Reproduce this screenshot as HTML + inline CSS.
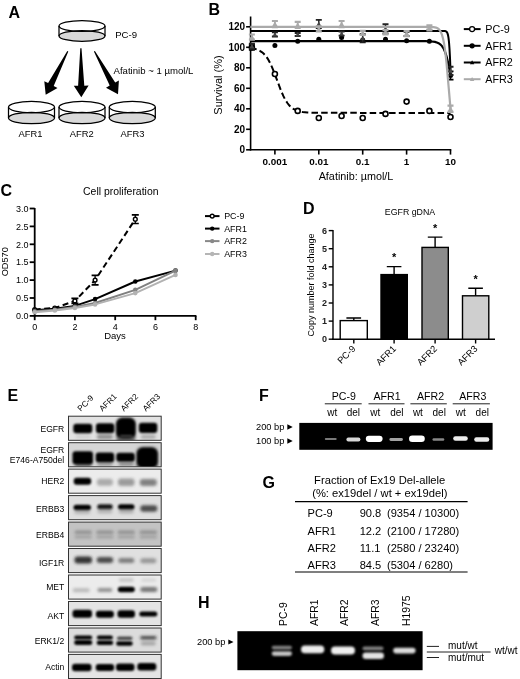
<!DOCTYPE html>
<html lang="en"><head><meta charset="utf-8"><title>Figure</title>
<style>
html,body{margin:0;padding:0;background:#fff;}
body{width:520px;height:679px;overflow:hidden;}
svg{display:block;font-family:"Liberation Sans",Arial,Helvetica,sans-serif;}
</style></head><body>
<svg width="520" height="679" viewBox="0 0 520 679">
<rect width="520" height="679" fill="#fff"/>
<text x="8.5" y="18" font-size="16" font-weight="bold" text-anchor="start" fill="#000">A</text>
<text x="208.5" y="15.2" font-size="16" font-weight="bold" text-anchor="start" fill="#000">B</text>
<text x="0.5" y="195.6" font-size="16" font-weight="bold" text-anchor="start" fill="#000">C</text>
<text x="303" y="213.8" font-size="16" font-weight="bold" text-anchor="start" fill="#000">D</text>
<text x="7.5" y="401.2" font-size="16" font-weight="bold" text-anchor="start" fill="#000">E</text>
<text x="259" y="401" font-size="16" font-weight="bold" text-anchor="start" fill="#000">F</text>
<text x="262.5" y="487.5" font-size="16" font-weight="bold" text-anchor="start" fill="#000">G</text>
<text x="198" y="607.8" font-size="16" font-weight="bold" text-anchor="start" fill="#000">H</text>
<g stroke="#000" stroke-width="1.25" fill="none">
<ellipse cx="82" cy="35.9" rx="23" ry="5.4" fill="#d9d9d9"/>
<ellipse cx="82" cy="26" rx="23" ry="5.4" fill="none"/>
<line x1="59" y1="26" x2="59" y2="35.9"/>
<line x1="105" y1="26" x2="105" y2="35.9"/>
</g>
<g stroke="#000" stroke-width="1.25" fill="none">
<ellipse cx="31.5" cy="118.0" rx="23" ry="5.7" fill="#d9d9d9"/>
<ellipse cx="31.5" cy="107.1" rx="23" ry="5.7" fill="none"/>
<line x1="8.5" y1="107.1" x2="8.5" y2="118.0"/>
<line x1="54.5" y1="107.1" x2="54.5" y2="118.0"/>
</g>
<g stroke="#000" stroke-width="1.25" fill="none">
<ellipse cx="82" cy="118.0" rx="23" ry="5.7" fill="#d9d9d9"/>
<ellipse cx="82" cy="107.1" rx="23" ry="5.7" fill="none"/>
<line x1="59" y1="107.1" x2="59" y2="118.0"/>
<line x1="105" y1="107.1" x2="105" y2="118.0"/>
</g>
<g stroke="#000" stroke-width="1.25" fill="none">
<ellipse cx="132.3" cy="118.0" rx="23" ry="5.7" fill="#d9d9d9"/>
<ellipse cx="132.3" cy="107.1" rx="23" ry="5.7" fill="none"/>
<line x1="109.30000000000001" y1="107.1" x2="109.30000000000001" y2="118.0"/>
<line x1="155.3" y1="107.1" x2="155.3" y2="118.0"/>
</g>
<text x="115.2" y="37.8" font-size="9.6" font-weight="normal" text-anchor="start" fill="#000">PC-9</text>
<text x="113.5" y="74" font-size="9.6" font-weight="normal" text-anchor="start" fill="#000">Afatinib ~ 1 µmol/L</text>
<text x="18.6" y="137.4" font-size="9.4" font-weight="normal" text-anchor="start" fill="#000">AFR1</text>
<text x="69.8" y="137.4" font-size="9.4" font-weight="normal" text-anchor="start" fill="#000">AFR2</text>
<text x="120.5" y="137.4" font-size="9.4" font-weight="normal" text-anchor="start" fill="#000">AFR3</text>
<polygon fill="#000" points="67.3,51.0 48.1,83.1 44.3,81.2 45.7,94.8 57.5,87.9 53.7,86.0 68.3,51.6"/>
<polygon fill="#000" points="80.3,48.3 78.1,85.7 73.8,85.8 81.3,97.2 88.6,85.6 84.3,85.7 81.5,48.3"/>
<polygon fill="#000" points="93.9,51.6 109.7,85.6 106.0,87.7 118.0,94.2 118.9,80.6 115.2,82.6 94.9,51.0"/>
<g stroke="#000" stroke-width="1.6" fill="none">
<line x1="250.6" y1="16.5" x2="250.6" y2="150.5"/>
<line x1="249.9" y1="149.8" x2="451.3" y2="149.8"/>
<line x1="246.1" y1="149.8" x2="250.6" y2="149.8"/>
<line x1="246.1" y1="129.3" x2="250.6" y2="129.3"/>
<line x1="246.1" y1="108.8" x2="250.6" y2="108.8"/>
<line x1="246.1" y1="88.3" x2="250.6" y2="88.3"/>
<line x1="246.1" y1="67.8" x2="250.6" y2="67.8"/>
<line x1="246.1" y1="47.3" x2="250.6" y2="47.3"/>
<line x1="246.1" y1="26.8" x2="250.6" y2="26.8"/>
<line x1="274.9" y1="149.8" x2="274.9" y2="154.60000000000002"/>
<line x1="318.8" y1="149.8" x2="318.8" y2="154.60000000000002"/>
<line x1="362.7" y1="149.8" x2="362.7" y2="154.60000000000002"/>
<line x1="406.6" y1="149.8" x2="406.6" y2="154.60000000000002"/>
<line x1="450.5" y1="149.8" x2="450.5" y2="154.60000000000002"/>
</g>
<text x="245.1" y="153.3" font-size="10" font-weight="bold" text-anchor="end" fill="#000">0</text>
<text x="245.1" y="132.8" font-size="10" font-weight="bold" text-anchor="end" fill="#000">20</text>
<text x="245.1" y="112.3" font-size="10" font-weight="bold" text-anchor="end" fill="#000">40</text>
<text x="245.1" y="91.8" font-size="10" font-weight="bold" text-anchor="end" fill="#000">60</text>
<text x="245.1" y="71.3" font-size="10" font-weight="bold" text-anchor="end" fill="#000">80</text>
<text x="245.1" y="50.8" font-size="10" font-weight="bold" text-anchor="end" fill="#000">100</text>
<text x="245.1" y="30.3" font-size="10" font-weight="bold" text-anchor="end" fill="#000">120</text>
<text x="274.9" y="164.5" font-size="9.9" font-weight="bold" text-anchor="middle" fill="#000">0.001</text>
<text x="318.8" y="164.5" font-size="9.9" font-weight="bold" text-anchor="middle" fill="#000">0.01</text>
<text x="362.7" y="164.5" font-size="9.9" font-weight="bold" text-anchor="middle" fill="#000">0.1</text>
<text x="406.6" y="164.5" font-size="9.9" font-weight="bold" text-anchor="middle" fill="#000">1</text>
<text x="450.5" y="164.5" font-size="9.9" font-weight="bold" text-anchor="middle" fill="#000">10</text>
<text x="221.8" y="85" font-size="11" font-weight="normal" text-anchor="middle" fill="#000" transform="rotate(-90 221.8 85)">Survival (%)</text>
<text x="356" y="180.3" font-size="10.8" font-weight="normal" text-anchor="middle" fill="#000">Afatinib: µmol/L</text>
<path d="M250.3,48.0 L254.3,48.7 L257.3,49.6 L259.8,50.8 L261.8,52.1 L263.8,53.8 L265.8,56.0 L267.8,58.8 L269.8,62.4 L272.3,67.8 L275.8,76.8 L280.8,90.1 L283.3,95.9 L285.3,99.8 L287.4,103.0 L289.4,105.5 L291.4,107.4 L293.4,108.9 L295.9,110.2 L298.9,111.2 L302.4,112.0 L307.4,112.5 L316.4,112.8 L373.4,112.9 L450.5,112.9" stroke="#000" stroke-width="2" stroke-dasharray="6.5 3.2" fill="none"/>
<circle cx="251.9" cy="47.3" r="2.5" fill="#fff" stroke="#000" stroke-width="1.6"/>
<circle cx="274.9" cy="74.0" r="2.5" fill="#fff" stroke="#000" stroke-width="1.6"/>
<circle cx="297.7" cy="110.9" r="2.5" fill="#fff" stroke="#000" stroke-width="1.6"/>
<circle cx="318.8" cy="118.0" r="2.5" fill="#fff" stroke="#000" stroke-width="1.6"/>
<circle cx="341.6" cy="116.0" r="2.5" fill="#fff" stroke="#000" stroke-width="1.6"/>
<circle cx="362.7" cy="118.0" r="2.5" fill="#fff" stroke="#000" stroke-width="1.6"/>
<circle cx="385.5" cy="113.9" r="2.5" fill="#fff" stroke="#000" stroke-width="1.6"/>
<circle cx="406.6" cy="101.6" r="2.5" fill="#fff" stroke="#000" stroke-width="1.6"/>
<circle cx="429.4" cy="110.9" r="2.5" fill="#fff" stroke="#000" stroke-width="1.6"/>
<circle cx="450.5" cy="117.0" r="2.5" fill="#fff" stroke="#000" stroke-width="1.6"/>
<path d="M250.3,41.2 L425.5,41.2 L431.5,41.5 L435.0,41.9 L437.5,42.7 L439.0,43.4 L440.5,44.5 L442.0,46.1 L443.5,48.4 L445.0,51.7 L446.5,56.2 L448.0,62.2 L449.5,69.8 L450.5,75.8" stroke="#000" stroke-width="2.2" fill="none"/>
<path d="M251.9,44.7V49.9" stroke="#000" stroke-width="1.5" fill="none"/>
<path d="M248.9,44.7H254.9M248.9,49.9H254.9" stroke="#000" stroke-width="1.9" fill="none"/>
<circle cx="251.9" cy="47.3" r="2.5" fill="#000"/>
<circle cx="274.9" cy="45.5" r="2.5" fill="#000"/>
<circle cx="297.7" cy="41.2" r="2.5" fill="#000"/>
<circle cx="318.8" cy="39.3" r="2.5" fill="#000"/>
<circle cx="341.6" cy="37.4" r="2.5" fill="#000"/>
<circle cx="362.7" cy="40.1" r="2.5" fill="#000"/>
<circle cx="385.5" cy="39.3" r="2.5" fill="#000"/>
<circle cx="406.6" cy="40.8" r="2.5" fill="#000"/>
<circle cx="429.4" cy="41.2" r="2.5" fill="#000"/>
<path d="M450.5,71.4V79.6" stroke="#000" stroke-width="1.5" fill="none"/>
<path d="M447.5,71.4H453.5M447.5,79.6H453.5" stroke="#000" stroke-width="1.9" fill="none"/>
<circle cx="450.5" cy="75.5" r="2.5" fill="#000"/>
<path d="M250.3,30.9 L443.5,30.9 L445.0,31.1 L446.0,31.4 L446.5,31.8 L447.0,32.4 L447.5,33.4 L448.0,35.1 L448.5,37.8 L449.0,42.1 L449.5,48.7 L450.0,58.1 L450.5,70.7" stroke="#000" stroke-width="2" fill="none"/>
<path d="M251.9,43.7V48.8" stroke="#222" stroke-width="1.5" fill="none"/>
<path d="M248.9,43.7H254.9M248.9,48.8H254.9" stroke="#222" stroke-width="1.9" fill="none"/>
<polygon points="251.9,43.9 254.3,48.2 249.5,48.2" fill="#444"/>
<path d="M274.9,32.4V36.5" stroke="#222" stroke-width="1.5" fill="none"/>
<path d="M271.9,32.4H277.9M271.9,36.5H277.9" stroke="#222" stroke-width="1.9" fill="none"/>
<polygon points="274.9,32.1 277.3,36.4 272.5,36.4" fill="#444"/>
<path d="M297.7,33.0V36.0" stroke="#222" stroke-width="1.5" fill="none"/>
<path d="M294.7,33.0H300.7M294.7,36.0H300.7" stroke="#222" stroke-width="1.9" fill="none"/>
<polygon points="297.7,32.1 300.1,36.4 295.3,36.4" fill="#444"/>
<path d="M318.8,19.9V28.1" stroke="#222" stroke-width="1.5" fill="none"/>
<path d="M315.8,19.9H321.8M315.8,28.1H321.8" stroke="#222" stroke-width="1.9" fill="none"/>
<polygon points="318.8,21.6 321.2,26.0 316.4,26.0" fill="#444"/>
<path d="M341.6,31.5V35.6" stroke="#222" stroke-width="1.5" fill="none"/>
<path d="M338.6,31.5H344.6M338.6,35.6H344.6" stroke="#222" stroke-width="1.9" fill="none"/>
<polygon points="341.6,31.2 344.0,35.5 339.2,35.5" fill="#444"/>
<path d="M362.7,34.2V42.4" stroke="#222" stroke-width="1.5" fill="none"/>
<path d="M359.7,34.2H365.7M359.7,42.4H365.7" stroke="#222" stroke-width="1.9" fill="none"/>
<polygon points="362.7,35.9 365.1,40.2 360.3,40.2" fill="#444"/>
<path d="M385.5,24.2V33.5" stroke="#222" stroke-width="1.5" fill="none"/>
<path d="M382.5,24.2H388.5M382.5,33.5H388.5" stroke="#222" stroke-width="1.9" fill="none"/>
<polygon points="385.5,26.5 387.9,30.8 383.1,30.8" fill="#444"/>
<path d="M406.6,31.9V36.0" stroke="#222" stroke-width="1.5" fill="none"/>
<path d="M403.6,31.9H409.6M403.6,36.0H409.6" stroke="#222" stroke-width="1.9" fill="none"/>
<polygon points="406.6,31.6 409.0,35.9 404.2,35.9" fill="#444"/>
<path d="M429.4,27.3V30.4" stroke="#222" stroke-width="1.5" fill="none"/>
<path d="M426.4,27.3H432.4M426.4,30.4H432.4" stroke="#222" stroke-width="1.9" fill="none"/>
<polygon points="429.4,26.5 431.8,30.8 427.0,30.8" fill="#444"/>
<path d="M450.5,66.8V75.0" stroke="#222" stroke-width="1.5" fill="none"/>
<path d="M447.5,66.8H453.5M447.5,75.0H453.5" stroke="#222" stroke-width="1.9" fill="none"/>
<polygon points="450.5,68.5 452.9,72.8 448.1,72.8" fill="#444"/>
<path d="M250.3,26.8 L429.5,26.9 L433.5,27.1 L436.0,27.6 L437.5,28.3 L439.0,29.4 L440.0,30.6 L441.0,32.4 L442.0,34.9 L443.0,38.4 L444.0,43.2 L445.0,49.7 L446.5,62.8 L448.5,85.3 L450.5,108.7" stroke="#aaa" stroke-width="2.2" fill="none"/>
<path d="M251.9,34.5V39.6" stroke="#aaa" stroke-width="1.8" fill="none"/>
<path d="M248.9,34.5H254.9M248.9,39.6H254.9" stroke="#aaa" stroke-width="2.2" fill="none"/>
<polygon points="251.9,34.5 254.5,39.1 249.3,39.1" fill="#aaa"/>
<path d="M274.9,21.0V27.1" stroke="#aaa" stroke-width="1.8" fill="none"/>
<path d="M271.9,21.0H277.9M271.9,27.1H277.9" stroke="#aaa" stroke-width="2.2" fill="none"/>
<polygon points="274.9,21.4 277.5,26.1 272.3,26.1" fill="#aaa"/>
<path d="M297.7,21.9V28.0" stroke="#aaa" stroke-width="1.8" fill="none"/>
<path d="M294.7,21.9H300.7M294.7,28.0H300.7" stroke="#aaa" stroke-width="2.2" fill="none"/>
<polygon points="297.7,22.4 300.3,27.0 295.1,27.0" fill="#aaa"/>
<path d="M318.8,26.3V31.4" stroke="#aaa" stroke-width="1.8" fill="none"/>
<path d="M315.8,26.3H321.8M315.8,31.4H321.8" stroke="#aaa" stroke-width="2.2" fill="none"/>
<polygon points="318.8,26.3 321.4,30.9 316.2,30.9" fill="#aaa"/>
<path d="M341.6,21.0V27.1" stroke="#aaa" stroke-width="1.8" fill="none"/>
<path d="M338.6,21.0H344.6M338.6,27.1H344.6" stroke="#aaa" stroke-width="2.2" fill="none"/>
<polygon points="341.6,21.4 344.2,26.1 339.0,26.1" fill="#aaa"/>
<path d="M362.7,30.9V35.0" stroke="#aaa" stroke-width="1.8" fill="none"/>
<path d="M359.7,30.9H365.7M359.7,35.0H365.7" stroke="#aaa" stroke-width="2.2" fill="none"/>
<polygon points="362.7,30.4 365.3,35.0 360.1,35.0" fill="#aaa"/>
<path d="M385.5,30.2V34.3" stroke="#aaa" stroke-width="1.8" fill="none"/>
<path d="M382.5,30.2H388.5M382.5,34.3H388.5" stroke="#aaa" stroke-width="2.2" fill="none"/>
<polygon points="385.5,29.6 388.1,34.3 382.9,34.3" fill="#aaa"/>
<path d="M406.6,31.0V36.1" stroke="#aaa" stroke-width="1.8" fill="none"/>
<path d="M403.6,31.0H409.6M403.6,36.1H409.6" stroke="#aaa" stroke-width="2.2" fill="none"/>
<polygon points="406.6,31.0 409.2,35.6 404.0,35.6" fill="#aaa"/>
<path d="M429.4,25.3V30.4" stroke="#aaa" stroke-width="1.8" fill="none"/>
<path d="M426.4,25.3H432.4M426.4,30.4H432.4" stroke="#aaa" stroke-width="2.2" fill="none"/>
<polygon points="429.4,25.2 432.0,29.9 426.8,29.9" fill="#aaa"/>
<path d="M450.5,105.7V111.9" stroke="#aaa" stroke-width="1.8" fill="none"/>
<path d="M447.5,105.7H453.5M447.5,111.9H453.5" stroke="#aaa" stroke-width="2.2" fill="none"/>
<polygon points="450.5,106.2 453.1,110.9 447.9,110.9" fill="#aaa"/>
<line x1="463.8" y1="29.1" x2="480.6" y2="29.1" stroke="#000" stroke-width="2"/>
<circle cx="472.1" cy="29.1" r="2.5" fill="#fff" stroke="#000" stroke-width="1.3"/>
<text x="485.2" y="33.0" font-size="10.8" font-weight="normal" text-anchor="start" fill="#000">PC-9</text>
<line x1="463.8" y1="45.8" x2="480.6" y2="45.8" stroke="#000" stroke-width="2"/>
<circle cx="472.1" cy="45.8" r="2.6" fill="#000"/>
<text x="485.2" y="49.7" font-size="10.8" font-weight="normal" text-anchor="start" fill="#000">AFR1</text>
<line x1="463.8" y1="62.5" x2="480.6" y2="62.5" stroke="#000" stroke-width="2"/>
<polygon points="472.1,60.3 474.3,64.3 469.9,64.3" fill="#000"/>
<text x="485.2" y="66.4" font-size="10.8" font-weight="normal" text-anchor="start" fill="#000">AFR2</text>
<line x1="463.8" y1="79.19999999999999" x2="480.6" y2="79.19999999999999" stroke="#aaa" stroke-width="2"/>
<polygon points="472.1,77.0 474.3,81.0 469.9,81.0" fill="#aaa"/>
<text x="485.2" y="83.1" font-size="10.8" font-weight="normal" text-anchor="start" fill="#000">AFR3</text>
<g stroke="#000" stroke-width="1.8" fill="none">
<line x1="34.7" y1="208" x2="34.7" y2="316.59999999999997"/>
<line x1="34.0" y1="315.9" x2="196.4" y2="315.9"/>
<line x1="29.700000000000003" y1="315.9" x2="34.7" y2="315.9"/>
<line x1="29.700000000000003" y1="298.0" x2="34.7" y2="298.0"/>
<line x1="29.700000000000003" y1="280.1" x2="34.7" y2="280.1"/>
<line x1="29.700000000000003" y1="262.2" x2="34.7" y2="262.2"/>
<line x1="29.700000000000003" y1="244.3" x2="34.7" y2="244.3"/>
<line x1="29.700000000000003" y1="226.4" x2="34.7" y2="226.4"/>
<line x1="29.700000000000003" y1="208.5" x2="34.7" y2="208.5"/>
<line x1="34.7" y1="315.9" x2="34.7" y2="320.2"/>
<line x1="74.9" y1="315.9" x2="74.9" y2="320.2"/>
<line x1="115.2" y1="315.9" x2="115.2" y2="320.2"/>
<line x1="155.4" y1="315.9" x2="155.4" y2="320.2"/>
<line x1="195.7" y1="315.9" x2="195.7" y2="320.2"/>
</g>
<text x="28.400000000000002" y="319.1" font-size="9" font-weight="normal" text-anchor="end" fill="#000">0.0</text>
<text x="28.400000000000002" y="301.2" font-size="9" font-weight="normal" text-anchor="end" fill="#000">0.5</text>
<text x="28.400000000000002" y="283.3" font-size="9" font-weight="normal" text-anchor="end" fill="#000">1.0</text>
<text x="28.400000000000002" y="265.4" font-size="9" font-weight="normal" text-anchor="end" fill="#000">1.5</text>
<text x="28.400000000000002" y="247.5" font-size="9" font-weight="normal" text-anchor="end" fill="#000">2.0</text>
<text x="28.400000000000002" y="229.6" font-size="9" font-weight="normal" text-anchor="end" fill="#000">2.5</text>
<text x="28.400000000000002" y="211.7" font-size="9" font-weight="normal" text-anchor="end" fill="#000">3.0</text>
<text x="34.7" y="329.6" font-size="9" font-weight="normal" text-anchor="middle" fill="#000">0</text>
<text x="74.9" y="329.6" font-size="9" font-weight="normal" text-anchor="middle" fill="#000">2</text>
<text x="115.2" y="329.6" font-size="9" font-weight="normal" text-anchor="middle" fill="#000">4</text>
<text x="155.4" y="329.6" font-size="9" font-weight="normal" text-anchor="middle" fill="#000">6</text>
<text x="195.7" y="329.6" font-size="9" font-weight="normal" text-anchor="middle" fill="#000">8</text>
<text x="115" y="339" font-size="9.5" font-weight="normal" text-anchor="middle" fill="#000">Days</text>
<text x="8.1" y="261.8" font-size="9.2" font-weight="normal" text-anchor="middle" fill="#000" transform="rotate(-90 8.1 261.8)">OD570</text>
<text x="120.8" y="194.7" font-size="10.45" font-weight="normal" text-anchor="middle" fill="#000">Cell proliferation</text>
<path d="M34.7,309.5 L54.8,308.0 L74.9,300.9 L95.1,280.1 L135.3,219.2" stroke="#000" stroke-width="2.0" fill="none" stroke-linejoin="round" stroke-dasharray="6 3.5"/>
<circle cx="34.7" cy="309.5" r="1.9" fill="#fff" stroke="#000" stroke-width="1.4"/>
<circle cx="54.8" cy="308.0" r="1.9" fill="#fff" stroke="#000" stroke-width="1.4"/>
<path d="M74.9,298.4V303.4" stroke="#000" stroke-width="1.3" fill="none"/>
<path d="M71.4,298.4H78.4M71.4,303.4H78.4" stroke="#000" stroke-width="1.7000000000000002" fill="none"/>
<circle cx="74.9" cy="300.9" r="1.9" fill="#fff" stroke="#000" stroke-width="1.4"/>
<path d="M95.1,275.4V284.8" stroke="#000" stroke-width="1.3" fill="none"/>
<path d="M91.6,275.4H98.6M91.6,284.8H98.6" stroke="#000" stroke-width="1.7000000000000002" fill="none"/>
<circle cx="95.1" cy="280.1" r="1.9" fill="#fff" stroke="#000" stroke-width="1.4"/>
<path d="M135.3,214.9V223.5" stroke="#000" stroke-width="1.3" fill="none"/>
<path d="M131.8,214.9H138.8M131.8,223.5H138.8" stroke="#000" stroke-width="1.7000000000000002" fill="none"/>
<circle cx="135.3" cy="219.2" r="1.9" fill="#fff" stroke="#000" stroke-width="1.4"/>
<path d="M34.7,310.2 L54.8,308.7 L74.9,305.9 L95.1,299.1 L135.3,281.5 L175.5,270.6" stroke="#000" stroke-width="2.0" fill="none" stroke-linejoin="round"/>
<circle cx="34.7" cy="310.2" r="2.3" fill="#000"/>
<circle cx="54.8" cy="308.7" r="2.3" fill="#000"/>
<circle cx="74.9" cy="305.9" r="2.3" fill="#000"/>
<circle cx="95.1" cy="299.1" r="2.3" fill="#000"/>
<circle cx="135.3" cy="281.5" r="2.3" fill="#000"/>
<circle cx="175.5" cy="270.6" r="2.3" fill="#000"/>
<path d="M34.7,311.2 L54.8,309.8 L74.9,306.9 L95.1,303.0 L135.3,289.9 L175.5,270.6" stroke="#808080" stroke-width="2.0" fill="none" stroke-linejoin="round"/>
<circle cx="34.7" cy="311.2" r="2.3" fill="#808080"/>
<circle cx="54.8" cy="309.8" r="2.3" fill="#808080"/>
<circle cx="74.9" cy="306.9" r="2.3" fill="#808080"/>
<circle cx="95.1" cy="303.0" r="2.3" fill="#808080"/>
<circle cx="135.3" cy="289.9" r="2.3" fill="#808080"/>
<circle cx="175.5" cy="270.6" r="2.3" fill="#808080"/>
<path d="M34.7,312.3 L54.8,310.5 L74.9,308.0 L95.1,304.4 L135.3,293.1 L175.5,274.9" stroke="#b2b2b2" stroke-width="2.0" fill="none" stroke-linejoin="round"/>
<circle cx="34.7" cy="312.3" r="2.3" fill="#b2b2b2"/>
<circle cx="54.8" cy="310.5" r="2.3" fill="#b2b2b2"/>
<circle cx="74.9" cy="308.0" r="2.3" fill="#b2b2b2"/>
<circle cx="95.1" cy="304.4" r="2.3" fill="#b2b2b2"/>
<circle cx="135.3" cy="293.1" r="2.3" fill="#b2b2b2"/>
<circle cx="175.5" cy="274.9" r="2.3" fill="#b2b2b2"/>
<line x1="205" y1="216.1" x2="219.5" y2="216.1" stroke="#000" stroke-width="2"/>
<circle cx="212.2" cy="216.1" r="1.9" fill="#fff" stroke="#000" stroke-width="1.4"/>
<text x="224.2" y="219.3" font-size="8.9" font-weight="normal" text-anchor="start" fill="#000">PC-9</text>
<line x1="205" y1="228.6" x2="219.5" y2="228.6" stroke="#000" stroke-width="2"/>
<circle cx="212.2" cy="228.6" r="2.2" fill="#000"/>
<text x="224.2" y="231.8" font-size="8.9" font-weight="normal" text-anchor="start" fill="#000">AFR1</text>
<line x1="205" y1="241.1" x2="219.5" y2="241.1" stroke="#888" stroke-width="2"/>
<circle cx="212.2" cy="241.1" r="2.2" fill="#888"/>
<text x="224.2" y="244.3" font-size="8.9" font-weight="normal" text-anchor="start" fill="#000">AFR2</text>
<line x1="205" y1="254" x2="219.5" y2="254" stroke="#b5b5b5" stroke-width="2"/>
<circle cx="212.2" cy="254" r="2.2" fill="#b5b5b5"/>
<text x="224.2" y="257.2" font-size="8.9" font-weight="normal" text-anchor="start" fill="#000">AFR3</text>
<g stroke="#000" stroke-width="1.4" fill="none">
<line x1="333" y1="229.9" x2="333" y2="339.9"/>
<line x1="332.3" y1="339.2" x2="495" y2="339.2"/>
<line x1="328.7" y1="339.2" x2="333" y2="339.2"/>
<line x1="328.7" y1="321.1" x2="333" y2="321.1"/>
<line x1="328.7" y1="303.0" x2="333" y2="303.0"/>
<line x1="328.7" y1="284.9" x2="333" y2="284.9"/>
<line x1="328.7" y1="266.8" x2="333" y2="266.8"/>
<line x1="328.7" y1="248.7" x2="333" y2="248.7"/>
<line x1="328.7" y1="230.6" x2="333" y2="230.6"/>
</g>
<text x="327" y="342.4" font-size="9" font-weight="bold" text-anchor="end" fill="#222">0</text>
<text x="327" y="324.3" font-size="9" font-weight="bold" text-anchor="end" fill="#222">1</text>
<text x="327" y="306.2" font-size="9" font-weight="bold" text-anchor="end" fill="#222">2</text>
<text x="327" y="288.1" font-size="9" font-weight="bold" text-anchor="end" fill="#222">3</text>
<text x="327" y="270.0" font-size="9" font-weight="bold" text-anchor="end" fill="#222">4</text>
<text x="327" y="251.9" font-size="9" font-weight="bold" text-anchor="end" fill="#222">5</text>
<text x="327" y="233.8" font-size="9" font-weight="bold" text-anchor="end" fill="#222">6</text>
<path d="M353.8,320.6V318.0M346.4,318.0H361.1" stroke="#000" stroke-width="1.4" fill="none"/>
<rect x="340.2" y="320.6" width="27.1" height="18.6" fill="#fff" stroke="#000" stroke-width="1.4"/>
<line x1="353.8" y1="339.2" x2="353.8" y2="343.5" stroke="#000" stroke-width="1.4"/>
<text x="356.2" y="349.3" font-size="9.3" font-weight="normal" text-anchor="end" fill="#000" transform="rotate(-45 356.2 349.3)">PC-9</text>
<path d="M394.1,274.6V266.6M386.8,266.6H401.4" stroke="#000" stroke-width="1.4" fill="none"/>
<rect x="381.0" y="274.6" width="26.3" height="64.6" fill="#000" stroke="#000" stroke-width="1.4"/>
<line x1="394.1" y1="339.2" x2="394.1" y2="343.5" stroke="#000" stroke-width="1.4"/>
<text x="396.6" y="349.3" font-size="9.3" font-weight="normal" text-anchor="end" fill="#000" transform="rotate(-45 396.6 349.3)">AFR1</text>
<text x="394.1" y="261.3" font-size="11" font-weight="bold" text-anchor="middle" fill="#000">*</text>
<path d="M435.1,247.4V237.1M427.8,237.1H442.4" stroke="#000" stroke-width="1.4" fill="none"/>
<rect x="422.0" y="247.4" width="26.3" height="91.8" fill="#8c8c8c" stroke="#000" stroke-width="1.4"/>
<line x1="435.1" y1="339.2" x2="435.1" y2="343.5" stroke="#000" stroke-width="1.4"/>
<text x="437.6" y="349.3" font-size="9.3" font-weight="normal" text-anchor="end" fill="#000" transform="rotate(-45 437.6 349.3)">AFR2</text>
<text x="435.1" y="231.8" font-size="11" font-weight="bold" text-anchor="middle" fill="#000">*</text>
<path d="M475.6,295.8V288.2M468.3,288.2H482.9" stroke="#000" stroke-width="1.4" fill="none"/>
<rect x="462.5" y="295.8" width="26.3" height="43.4" fill="#cfcfcf" stroke="#000" stroke-width="1.4"/>
<line x1="475.6" y1="339.2" x2="475.6" y2="343.5" stroke="#000" stroke-width="1.4"/>
<text x="478.1" y="349.3" font-size="9.3" font-weight="normal" text-anchor="end" fill="#000" transform="rotate(-45 478.1 349.3)">AFR3</text>
<text x="475.6" y="282.9" font-size="11" font-weight="bold" text-anchor="middle" fill="#000">*</text>
<text x="410" y="215" font-size="8.8" font-weight="normal" text-anchor="middle" fill="#000">EGFR gDNA</text>
<text x="314" y="285" font-size="9.0" font-weight="normal" text-anchor="middle" fill="#000" transform="rotate(-90 314 285)">Copy number fold change</text>
<text x="80.8" y="411.8" font-size="8.2" font-weight="normal" text-anchor="start" fill="#000" transform="rotate(-45 80.8 411.8)">PC-9</text>
<text x="102.5" y="411.8" font-size="8.2" font-weight="normal" text-anchor="start" fill="#000" transform="rotate(-45 102.5 411.8)">AFR1</text>
<text x="123.9" y="411.8" font-size="8.2" font-weight="normal" text-anchor="start" fill="#000" transform="rotate(-45 123.9 411.8)">AFR2</text>
<text x="145.9" y="411.8" font-size="8.2" font-weight="normal" text-anchor="start" fill="#000" transform="rotate(-45 145.9 411.8)">AFR3</text>
<defs>
<filter id="bl1" x="-30%" y="-80%" width="160%" height="260%"><feGaussianBlur stdDeviation="1.1"/></filter>
<filter id="bl2" x="-30%" y="-80%" width="160%" height="260%"><feGaussianBlur stdDeviation="1.8"/></filter>
<filter id="bl0" x="-30%" y="-80%" width="160%" height="260%"><feGaussianBlur stdDeviation="0.7"/></filter>
<clipPath id="rc0"><rect x="68.5" y="416.2" width="92.7" height="24.1"/></clipPath>
<clipPath id="rc1"><rect x="68.5" y="442.7" width="92.7" height="24.1"/></clipPath>
<clipPath id="rc2"><rect x="68.5" y="469.1" width="92.7" height="24.1"/></clipPath>
<clipPath id="rc3"><rect x="68.5" y="495.6" width="92.7" height="24.1"/></clipPath>
<clipPath id="rc4"><rect x="68.5" y="522.1" width="92.7" height="24.1"/></clipPath>
<clipPath id="rc5"><rect x="68.5" y="548.5" width="92.7" height="24.1"/></clipPath>
<clipPath id="rc6"><rect x="68.5" y="575.0" width="92.7" height="24.1"/></clipPath>
<clipPath id="rc7"><rect x="68.5" y="601.5" width="92.7" height="24.1"/></clipPath>
<clipPath id="rc8"><rect x="68.5" y="628.0" width="92.7" height="24.1"/></clipPath>
<clipPath id="rc9"><rect x="68.5" y="654.4" width="92.7" height="24.1"/></clipPath>
</defs>
<rect x="68.5" y="416.2" width="92.7" height="24.1" fill="#e2e2e2"/>
<g clip-path="url(#rc0)">
<rect x="73.3" y="423.8" width="19" height="9.5" rx="3.0" fill="#000" opacity="1" filter="url(#bl1)"/>
<rect x="95.9" y="423.2" width="18.5" height="10" rx="3.0" fill="#000" opacity="1" filter="url(#bl1)"/>
<rect x="96.9" y="434.4" width="16" height="4.5" rx="2.2" fill="#444" opacity="0.55" filter="url(#bl2)"/>
<rect x="116.4" y="418.2" width="19" height="20" rx="6.0" fill="#000" opacity="1" filter="url(#bl1)"/>
<rect x="116.1" y="417.2" width="19.5" height="26" rx="6.0" fill="#000" opacity="0.55" filter="url(#bl2)"/>
<rect x="119.8" y="435.2" width="13" height="1.6" rx="0.8" fill="#aaa" opacity="0.55" filter="url(#bl1)"/>
<rect x="138.8" y="422.8" width="18.5" height="10.3" rx="3.0" fill="#000" opacity="1" filter="url(#bl1)"/>
<rect x="140.8" y="434.7" width="15" height="4" rx="2.0" fill="#555" opacity="0.4" filter="url(#bl2)"/>
<rect x="75.7" y="435.2" width="15" height="3" rx="1.5" fill="#777" opacity="0.2" filter="url(#bl2)"/>
</g>
<rect x="68.5" y="416.2" width="92.7" height="24.1" fill="none" stroke="#333" stroke-width="1"/>
<text x="64.3" y="431.8" font-size="8.6" font-weight="normal" text-anchor="end" fill="#000">EGFR</text>
<rect x="68.5" y="442.7" width="92.7" height="24.1" fill="#d6d6d6"/>
<g clip-path="url(#rc1)">
<rect x="72.5" y="451.2" width="20.5" height="13" rx="3.0" fill="#000" opacity="1" filter="url(#bl1)"/>
<rect x="74.7" y="461.7" width="17" height="5" rx="2.5" fill="#000" opacity="0.5" filter="url(#bl2)"/>
<rect x="95.7" y="452.6" width="18.5" height="10" rx="3.0" fill="#000" opacity="1" filter="url(#bl1)"/>
<rect x="97.4" y="462.7" width="15" height="3" rx="1.5" fill="#444" opacity="0.45" filter="url(#bl2)"/>
<rect x="116.3" y="452.7" width="18.5" height="9" rx="3.0" fill="#000" opacity="1" filter="url(#bl1)"/>
<rect x="118.8" y="462.5" width="15" height="3" rx="1.5" fill="#333" opacity="0.55" filter="url(#bl2)"/>
<rect x="137.0" y="447.7" width="20.5" height="20" rx="6.0" fill="#000" opacity="1" filter="url(#bl1)"/>
<rect x="136.2" y="446.7" width="22" height="24" rx="6.0" fill="#000" opacity="0.5" filter="url(#bl2)"/>
</g>
<rect x="68.5" y="442.7" width="92.7" height="24.1" fill="none" stroke="#333" stroke-width="1"/>
<rect x="68.5" y="469.1" width="92.7" height="24.1" fill="#ececec"/>
<g clip-path="url(#rc2)">
<rect x="73.7" y="477.7" width="17.5" height="7" rx="3.0" fill="#000" opacity="1" filter="url(#bl1)"/>
<rect x="96.9" y="478.8" width="16" height="7" rx="3.0" fill="#777" opacity="0.55" filter="url(#bl2)"/>
<rect x="118.0" y="478.6" width="16.5" height="7.5" rx="3.0" fill="#666" opacity="0.6" filter="url(#bl2)"/>
<rect x="139.8" y="479.1" width="17" height="7" rx="3.0" fill="#555" opacity="0.7" filter="url(#bl2)"/>
</g>
<rect x="68.5" y="469.1" width="92.7" height="24.1" fill="none" stroke="#333" stroke-width="1"/>
<text x="64.3" y="484.2" font-size="8.6" font-weight="normal" text-anchor="end" fill="#000">HER2</text>
<rect x="68.5" y="495.6" width="92.7" height="24.1" fill="#dfdfdf"/>
<g clip-path="url(#rc3)">
<rect x="73.5" y="504.7" width="17.5" height="5.5" rx="2.8" fill="#000" opacity="1" filter="url(#bl1)"/>
<rect x="74.2" y="509.1" width="16" height="5" rx="2.5" fill="#555" opacity="0.3" filter="url(#bl2)"/>
<rect x="97.2" y="504.3" width="15.5" height="5" rx="2.5" fill="#111" opacity="0.95" filter="url(#bl1)"/>
<rect x="97.4" y="508.6" width="15" height="5" rx="2.5" fill="#555" opacity="0.3" filter="url(#bl2)"/>
<rect x="118.0" y="504.2" width="16.5" height="5.2" rx="2.6" fill="#000" opacity="1" filter="url(#bl1)"/>
<rect x="118.8" y="508.6" width="15" height="5" rx="2.5" fill="#555" opacity="0.35" filter="url(#bl2)"/>
<rect x="140.3" y="505.2" width="17" height="6.5" rx="3.0" fill="#333" opacity="0.85" filter="url(#bl2)"/>
</g>
<rect x="68.5" y="495.6" width="92.7" height="24.1" fill="none" stroke="#333" stroke-width="1"/>
<text x="64.3" y="511.6" font-size="8.6" font-weight="normal" text-anchor="end" fill="#000">ERBB3</text>
<rect x="68.5" y="522.1" width="92.7" height="24.1" fill="#c3c3c3"/>
<g clip-path="url(#rc4)">
<rect x="74.5" y="530.6" width="17.5" height="3.5" rx="1.8" fill="#666" opacity="0.55" filter="url(#bl2)"/>
<rect x="96.2" y="530.6" width="17.5" height="3.5" rx="1.8" fill="#666" opacity="0.55" filter="url(#bl2)"/>
<rect x="117.5" y="530.6" width="17.5" height="3.5" rx="1.8" fill="#666" opacity="0.55" filter="url(#bl2)"/>
<rect x="139.6" y="530.6" width="17.5" height="3.5" rx="1.8" fill="#666" opacity="0.55" filter="url(#bl2)"/>
<rect x="74.5" y="535.4" width="17.5" height="3" rx="1.5" fill="#777" opacity="0.45" filter="url(#bl2)"/>
<rect x="96.2" y="535.4" width="17.5" height="3" rx="1.5" fill="#777" opacity="0.45" filter="url(#bl2)"/>
<rect x="117.5" y="535.4" width="17.5" height="3" rx="1.5" fill="#777" opacity="0.45" filter="url(#bl2)"/>
<rect x="139.6" y="535.4" width="17.5" height="3" rx="1.5" fill="#777" opacity="0.45" filter="url(#bl2)"/>
</g>
<rect x="68.5" y="522.1" width="92.7" height="24.1" fill="none" stroke="#333" stroke-width="1"/>
<text x="64.3" y="538.4" font-size="8.6" font-weight="normal" text-anchor="end" fill="#000">ERBB4</text>
<rect x="68.5" y="548.5" width="92.7" height="24.1" fill="#e0e0e0"/>
<g clip-path="url(#rc5)">
<rect x="74.5" y="556.5" width="17.5" height="7" rx="3.0" fill="#222" opacity="0.9" filter="url(#bl2)"/>
<rect x="96.7" y="557.0" width="16.5" height="6" rx="3.0" fill="#333" opacity="0.85" filter="url(#bl2)"/>
<rect x="118.3" y="558.0" width="16" height="5" rx="2.5" fill="#555" opacity="0.7" filter="url(#bl2)"/>
<rect x="140.3" y="558.3" width="16" height="5" rx="2.5" fill="#666" opacity="0.6" filter="url(#bl2)"/>
</g>
<rect x="68.5" y="548.5" width="92.7" height="24.1" fill="none" stroke="#333" stroke-width="1"/>
<text x="64.3" y="566.3" font-size="8.6" font-weight="normal" text-anchor="end" fill="#000">IGF1R</text>
<rect x="68.5" y="575.0" width="92.7" height="24.1" fill="#ececec"/>
<g clip-path="url(#rc6)">
<rect x="72.7" y="588.3" width="17" height="4" rx="2.0" fill="#888" opacity="0.5" filter="url(#bl2)"/>
<rect x="97.4" y="588.0" width="15" height="4" rx="2.0" fill="#555" opacity="0.6" filter="url(#bl2)"/>
<rect x="117.8" y="586.8" width="17" height="5.5" rx="2.8" fill="#000" opacity="1" filter="url(#bl1)"/>
<rect x="118.8" y="578.3" width="15" height="3.5" rx="1.8" fill="#888" opacity="0.4" filter="url(#bl2)"/>
<rect x="140.3" y="587.0" width="17" height="5" rx="2.5" fill="#444" opacity="0.7" filter="url(#bl2)"/>
<rect x="141.3" y="578.5" width="15" height="3" rx="1.5" fill="#999" opacity="0.3" filter="url(#bl2)"/>
</g>
<rect x="68.5" y="575.0" width="92.7" height="24.1" fill="none" stroke="#333" stroke-width="1"/>
<text x="64.3" y="590.2" font-size="8.6" font-weight="normal" text-anchor="end" fill="#000">MET</text>
<rect x="68.5" y="601.5" width="92.7" height="24.1" fill="#e4e4e4"/>
<g clip-path="url(#rc7)">
<rect x="72.5" y="609.8" width="19.5" height="8" rx="3.0" fill="#000" opacity="1" filter="url(#bl1)"/>
<rect x="95.9" y="610.8" width="18" height="7" rx="3.0" fill="#000" opacity="1" filter="url(#bl1)"/>
<rect x="117.5" y="610.2" width="17.5" height="7.5" rx="3.0" fill="#000" opacity="1" filter="url(#bl1)"/>
<rect x="139.3" y="611.6" width="18" height="5" rx="2.5" fill="#000" opacity="1" filter="url(#bl1)"/>
</g>
<rect x="68.5" y="601.5" width="92.7" height="24.1" fill="none" stroke="#333" stroke-width="1"/>
<text x="64.3" y="619.3" font-size="8.6" font-weight="normal" text-anchor="end" fill="#000">AKT</text>
<rect x="68.5" y="628.0" width="92.7" height="24.1" fill="#dcdcdc"/>
<g clip-path="url(#rc8)">
<rect x="74.2" y="635.5" width="18" height="4" rx="2.0" fill="#000" opacity="1" filter="url(#bl1)"/>
<rect x="74.2" y="640.0" width="18" height="5" rx="2.5" fill="#000" opacity="1" filter="url(#bl1)"/>
<rect x="96.9" y="635.5" width="16" height="4" rx="2.0" fill="#000" opacity="1" filter="url(#bl1)"/>
<rect x="96.7" y="640.5" width="16.5" height="4.5" rx="2.2" fill="#000" opacity="1" filter="url(#bl1)"/>
<rect x="117.0" y="636.5" width="15.5" height="3.5" rx="1.8" fill="#333" opacity="0.85" filter="url(#bl1)"/>
<rect x="116.2" y="641.2" width="16.5" height="4.5" rx="2.2" fill="#000" opacity="1" filter="url(#bl1)"/>
<rect x="140.1" y="636.0" width="16.5" height="3.5" rx="1.8" fill="#222" opacity="0.8" filter="url(#bl2)"/>
<rect x="140.8" y="641.7" width="15" height="3.5" rx="1.8" fill="#666" opacity="0.5" filter="url(#bl2)"/>
</g>
<rect x="68.5" y="628.0" width="92.7" height="24.1" fill="none" stroke="#333" stroke-width="1"/>
<text x="64.3" y="643.8" font-size="8.6" font-weight="normal" text-anchor="end" fill="#000">ERK1/2</text>
<rect x="68.5" y="654.4" width="92.7" height="24.1" fill="#e4e4e4"/>
<g clip-path="url(#rc9)">
<rect x="72.0" y="663.7" width="19.5" height="7.5" rx="3.0" fill="#000" opacity="1" filter="url(#bl1)"/>
<rect x="95.7" y="664.1" width="18.5" height="7" rx="3.0" fill="#000" opacity="1" filter="url(#bl1)"/>
<rect x="116.0" y="663.4" width="18.5" height="7.5" rx="3.0" fill="#000" opacity="1" filter="url(#bl1)"/>
<rect x="137.3" y="662.9" width="19" height="7.5" rx="3.0" fill="#000" opacity="1" filter="url(#bl1)"/>
</g>
<rect x="68.5" y="654.4" width="92.7" height="24.1" fill="none" stroke="#333" stroke-width="1"/>
<text x="64.3" y="670.2" font-size="8.6" font-weight="normal" text-anchor="end" fill="#000">Actin</text>
<text x="64.3" y="453.3" font-size="8.6" font-weight="normal" text-anchor="end" fill="#000">EGFR</text>
<text x="64.3" y="462.6" font-size="8.6" font-weight="normal" text-anchor="end" fill="#000">E746-A750del</text>
<rect x="299.3" y="422.9" width="193.3" height="26.9" fill="#000"/>
<text x="343.8" y="400" font-size="10.6" font-weight="normal" text-anchor="middle" fill="#000">PC-9</text>
<line x1="324.8" y1="403.8" x2="361.7" y2="403.8" stroke="#222" stroke-width="1"/>
<text x="387.1" y="400" font-size="10.6" font-weight="normal" text-anchor="middle" fill="#000">AFR1</text>
<line x1="368.5" y1="403.8" x2="404.5" y2="403.8" stroke="#222" stroke-width="1"/>
<text x="430.5" y="400" font-size="10.6" font-weight="normal" text-anchor="middle" fill="#000">AFR2</text>
<line x1="410.4" y1="403.8" x2="446.8" y2="403.8" stroke="#222" stroke-width="1"/>
<text x="472.8" y="400" font-size="10.6" font-weight="normal" text-anchor="middle" fill="#000">AFR3</text>
<line x1="452.7" y1="403.8" x2="489.9" y2="403.8" stroke="#222" stroke-width="1"/>
<text x="332.2" y="416.3" font-size="10" font-weight="normal" text-anchor="middle" fill="#000">wt</text>
<text x="353.4" y="416.3" font-size="10" font-weight="normal" text-anchor="middle" fill="#000">del</text>
<text x="375.2" y="416.3" font-size="10" font-weight="normal" text-anchor="middle" fill="#000">wt</text>
<text x="396.9" y="416.3" font-size="10" font-weight="normal" text-anchor="middle" fill="#000">del</text>
<text x="417.9" y="416.3" font-size="10" font-weight="normal" text-anchor="middle" fill="#000">wt</text>
<text x="439.2" y="416.3" font-size="10" font-weight="normal" text-anchor="middle" fill="#000">del</text>
<text x="460.7" y="416.3" font-size="10" font-weight="normal" text-anchor="middle" fill="#000">wt</text>
<text x="482.3" y="416.3" font-size="10" font-weight="normal" text-anchor="middle" fill="#000">del</text>
<text x="256" y="430.3" font-size="9.3" font-weight="normal" text-anchor="start" fill="#000">200 bp</text>
<polygon points="287.3,424.3 292.7,427 287.3,429.7" fill="#000"/>
<text x="256" y="444.3" font-size="9.3" font-weight="normal" text-anchor="start" fill="#000">100 bp</text>
<polygon points="287.3,438.3 292.7,441 287.3,443.7" fill="#000"/>
<rect x="324.8" y="437.9" width="11.9" height="2" rx="1.0" fill="#999" opacity="0.8" filter="url(#bl0)"/>
<rect x="346.4" y="437.6" width="14.0" height="3.8" rx="1.9" fill="#d8d8d8" opacity="1" filter="url(#bl0)"/>
<rect x="365.8" y="435.7" width="16.8" height="6.2" rx="3.1" fill="#fff" opacity="1" filter="url(#bl0)"/>
<rect x="389.4" y="438.1" width="13.5" height="2.8" rx="1.4" fill="#b4b4b4" opacity="0.9" filter="url(#bl0)"/>
<rect x="409" y="435.5" width="15.8" height="6.6" rx="3.3" fill="#fff" opacity="1" filter="url(#bl0)"/>
<rect x="432.5" y="438.3" width="11.8" height="2.4" rx="1.2" fill="#a0a0a0" opacity="0.85" filter="url(#bl0)"/>
<rect x="453.2" y="436.2" width="14.6" height="4.6" rx="2.3" fill="#ececec" opacity="1" filter="url(#bl0)"/>
<rect x="474.2" y="437.3" width="15.1" height="4.4" rx="2.2" fill="#ececec" opacity="1" filter="url(#bl0)"/>
<text x="379.7" y="484.2" font-size="11.2" font-weight="normal" text-anchor="middle" fill="#000">Fraction of Ex19 Del-allele</text>
<text x="379.8" y="497" font-size="11.2" font-weight="normal" text-anchor="middle" fill="#000">(%: ex19del / wt + ex19del)</text>
<line x1="295" y1="501.6" x2="467.6" y2="501.6" stroke="#000" stroke-width="1.2"/>
<line x1="295" y1="572" x2="467.6" y2="572" stroke="#000" stroke-width="1.2"/>
<text x="307.5" y="517.0" font-size="11.1" font-weight="normal" text-anchor="start" fill="#000">PC-9</text>
<text x="359.7" y="517.0" font-size="11.1" font-weight="normal" text-anchor="start" fill="#000">90.8</text>
<text x="387" y="517.0" font-size="11.1" font-weight="normal" text-anchor="start" fill="#000">(9354 / 10300)</text>
<text x="307.5" y="534.5" font-size="11.1" font-weight="normal" text-anchor="start" fill="#000">AFR1</text>
<text x="359.7" y="534.5" font-size="11.1" font-weight="normal" text-anchor="start" fill="#000">12.2</text>
<text x="387" y="534.5" font-size="11.1" font-weight="normal" text-anchor="start" fill="#000">(2100 / 17280)</text>
<text x="307.5" y="551.9" font-size="11.1" font-weight="normal" text-anchor="start" fill="#000">AFR2</text>
<text x="359.7" y="551.9" font-size="11.1" font-weight="normal" text-anchor="start" fill="#000">11.1</text>
<text x="387" y="551.9" font-size="11.1" font-weight="normal" text-anchor="start" fill="#000">(2580 / 23240)</text>
<text x="307.5" y="569.4" font-size="11.1" font-weight="normal" text-anchor="start" fill="#000">AFR3</text>
<text x="359.7" y="569.4" font-size="11.1" font-weight="normal" text-anchor="start" fill="#000">84.5</text>
<text x="387" y="569.4" font-size="11.1" font-weight="normal" text-anchor="start" fill="#000">(5304 / 6280)</text>
<rect x="237.4" y="631.2" width="185.2" height="39" fill="#000"/>
<text x="197" y="645.3" font-size="9.3" font-weight="normal" text-anchor="start" fill="#000">200 bp</text>
<polygon points="228.3,639.4 233.5,642 228.3,644.6" fill="#000"/>
<text x="286.9" y="626" font-size="10.4" font-weight="normal" text-anchor="start" fill="#000" transform="rotate(-90 286.9 626)">PC-9</text>
<text x="317.5" y="626" font-size="10.4" font-weight="normal" text-anchor="start" fill="#000" transform="rotate(-90 317.5 626)">AFR1</text>
<text x="347.5" y="626" font-size="10.4" font-weight="normal" text-anchor="start" fill="#000" transform="rotate(-90 347.5 626)">AFR2</text>
<text x="379.4" y="626" font-size="10.4" font-weight="normal" text-anchor="start" fill="#000" transform="rotate(-90 379.4 626)">AFR3</text>
<text x="409.9" y="626" font-size="10.4" font-weight="normal" text-anchor="start" fill="#000" transform="rotate(-90 409.9 626)">H1975</text>
<rect x="271.7" y="645.8" width="20.3" height="3.6" rx="1.8" fill="#999" opacity="0.85" filter="url(#bl1)"/>
<rect x="271.7" y="651.2" width="20.3" height="4.8" rx="2.4" fill="#c4c4c4" opacity="1" filter="url(#bl1)"/>
<rect x="301" y="645.6" width="23.3" height="7.6" rx="3.8" fill="#ececec" opacity="1" filter="url(#bl1)"/>
<rect x="331" y="646.6" width="24.0" height="8" rx="4.0" fill="#f0f0f0" opacity="1" filter="url(#bl1)"/>
<rect x="362.5" y="646.4" width="21.0" height="3.8" rx="1.9" fill="#9a9a9a" opacity="0.85" filter="url(#bl1)"/>
<rect x="362.5" y="652.6" width="21.5" height="6.4" rx="3.2" fill="#e4e4e4" opacity="1" filter="url(#bl1)"/>
<rect x="393.2" y="647.8" width="22.4" height="5.6" rx="2.8" fill="#dcdcdc" opacity="1" filter="url(#bl1)"/>
<path d="M426.8,646.4H439M426.8,657.5H439M426.8,652H490.6" stroke="#222" stroke-width="1" fill="none"/>
<text x="448" y="648.8" font-size="10" font-weight="normal" text-anchor="start" fill="#000">mut/wt</text>
<text x="448" y="661.2" font-size="10" font-weight="normal" text-anchor="start" fill="#000">mut/mut</text>
<text x="494.8" y="653.8" font-size="10" font-weight="normal" text-anchor="start" fill="#000">wt/wt</text>
</svg>
</body></html>
